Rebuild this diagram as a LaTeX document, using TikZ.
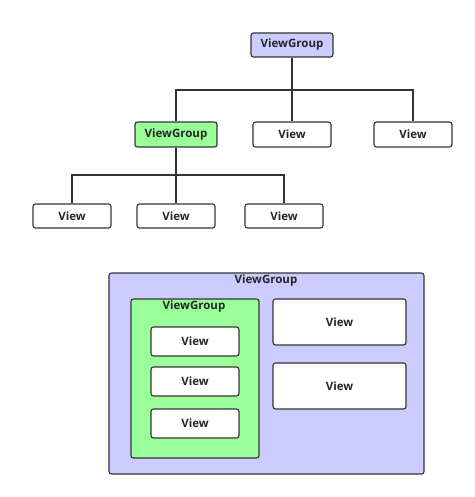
\documentclass[tikz,border=0pt]{standalone}
\usepackage{fontspec}
\setmainfont{Open Sans}
\begin{document}
\begin{tikzpicture}[x=1pt,y=-1pt,
  lbl/.style={font=\fontsize{11.5}{13}\selectfont\bfseries,text=black!85},
  box/.style={draw=black!80,line width=1.1pt,rounded corners=2.5pt,lbl,inner sep=0pt},
  vg/.style={box,fill=vgblue},
  vgg/.style={box,fill=vggreen},
  vw/.style={box,fill=white},
  conn/.style={draw=black!80,line width=1.1pt}]
\definecolor{vgblue}{HTML}{CCCCFF}
\definecolor{vggreen}{HTML}{99FF99}
\useasboundingbox (0,0) rectangle (474,497);
% tree
\node[vg,minimum width=82pt,minimum height=24pt] (root) at (292,45) {ViewGroup};
\node[vgg,minimum width=82pt,minimum height=25pt] (g1) at (176,134.5) {ViewGroup};
\node[vw,minimum width=78pt,minimum height=25pt] (v1) at (292,134.5) {View};
\node[vw,minimum width=78pt,minimum height=25pt] (v2) at (413,134.5) {View};
\node[vw,minimum width=78pt,minimum height=24pt] (w1) at (72,216) {View};
\node[vw,minimum width=78pt,minimum height=24pt] (w2) at (176,216) {View};
\node[vw,minimum width=78pt,minimum height=24pt] (w3) at (284,216) {View};
\coordinate (h1) at (292,90);
\coordinate (h2) at (176,175);
\draw[conn] (root.south) -- (h1);
\draw[conn] (g1.north) |- (h1) -| (v2.north);
\draw[conn] (h1) -- (v1.north);
\draw[conn] (g1.south) -- (h2);
\draw[conn] (w1.north) |- (h2) -| (w3.north);
\draw[conn] (h2) -- (w2.north);
% nested layout
\node[vg,minimum width=315pt,minimum height=201pt] (outer) at (266.5,373.5) {};
\node[lbl,anchor=center] (outerl) at (266,281) {ViewGroup};
\node[vgg,minimum width=128pt,minimum height=159pt] (inner) at (195,378.5) {};
\node[lbl,anchor=center] (innerl) at (194,307) {ViewGroup};
\node[vw,minimum width=88pt,minimum height=29pt] (i1) at (195,341.5) {View};
\node[vw,minimum width=88pt,minimum height=29pt] (i2) at (195,381.5) {View};
\node[vw,minimum width=88pt,minimum height=29pt] (i3) at (195,423.5) {View};
\node[vw,minimum width=133pt,minimum height=46pt] (r1) at (339.5,322) {View};
\node[vw,minimum width=133pt,minimum height=46pt] (r2) at (339.5,386) {View};
\end{tikzpicture}
\end{document}
